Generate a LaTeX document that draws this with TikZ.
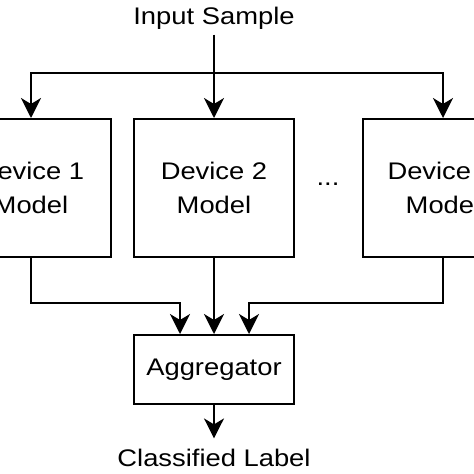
\documentclass[tikz,border=0pt]{standalone}
\usepackage{fontspec}
\setmainfont{Liberation Sans}[FakeStretch=1.14]
\usetikzlibrary{arrows.meta,calc}
\begin{document}
\begin{tikzpicture}[x=1pt,y=-1pt,
  every node/.style={font=\fontsize{24}{34}\selectfont},
  box/.style={draw,line width=2pt,minimum width=160pt,minimum height=138pt,align=center,inner sep=0pt},
  aggbox/.style={draw,line width=2pt,minimum width=160pt,minimum height=69pt,inner sep=0pt},
  arr/.style={line width=2pt,-{Stealth[length=20pt,width=20pt,inset=6pt]}},
  ln/.style={line width=2pt}]
\useasboundingbox (0,0) rectangle (474,474);
\begin{scope}
\clip (0,0) rectangle (474,474);
\fill[white] (0,0) rectangle (474,474);
\node[anchor=base,inner sep=5pt] (in) at (214,24.5) {Input Sample};
\node[box] (d1) at (31,188) {Device 1\\Model};
\node[box] (d2) at (214,188) {Device 2\\Model};
\node[box] (d3) at (443,188) {Device N\\Model};
\node[inner sep=0pt] (dots) at (328,184) {...};
\node[aggbox] (agg) at (214,369.5) {Aggregator};
\node[anchor=base,inner sep=10pt] (out) at (214,466) {Classified Label};
\coordinate (split) at (214,73);
\coordinate (m1) at (180,303);
\coordinate (m3) at (249,303);
\draw[arr] (in.south) -- (d2.north);
\draw[arr] (split) -| (d1.north);
\draw[arr] (split) -| (d3.north);
\draw[arr] (d1.south) |- (m1) -- (m1 |- agg.north);
\draw[arr] (d2.south) -- (agg.north);
\draw[arr] (d3.south) |- (m3) -- (m3 |- agg.north);
\draw[arr] (agg.south) -- (out.north);
\end{scope}
\end{tikzpicture}
\end{document}
